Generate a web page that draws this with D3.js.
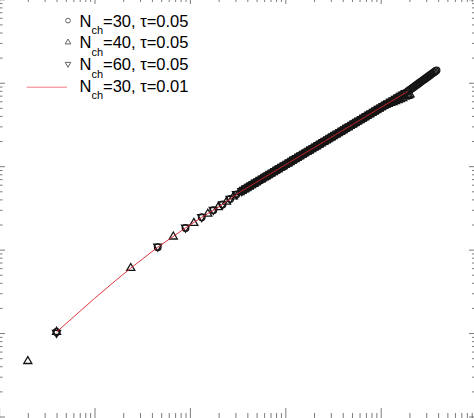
<!DOCTYPE html>
<html>
<head>
<meta charset="utf-8">
<script src="https://cdn.jsdelivr.net/npm/d3@7"></script>
<style>
  html, body { margin: 0; padding: 0; background: #fff; }
  svg { display: block; }
</style>
</head>
<body>
<div id="chart"></div>
<script>
// Axis domains (log-log, five decades each)
const xDomain = [0.1, 1e4];
const yDomain = [1, 1e5];

// Early, well separated points of each run
const n30HeadT = [0.4, 4.6, 9.0, 13.3, 17.6, 22.0, 26.4, 30.8];
const n30HeadY = [10.3, 107, 182, 244, 297, 348, 405, 460];
const n60HeadT = [0.4, 4.6, 9.0, 13.3, 17.6, 22.0, 26.4, 30.8];
const n60HeadY = [10.1, 109, 184, 246, 300, 350, 408, 463];
const n40HeadT = [0.2, 0.4, 2.4, 6.7, 11.0, 15.4, 19.8, 24.2, 28.6, 33.0];
const n40HeadY = [4.6, 10.3, 60, 143, 208, 268, 322, 375, 432, 485];
const redHeadT = [0.4, 1.0, 1.6, 2.4, 4.6, 9.0, 13.3, 17.6, 22.0, 26.4, 30.8];
const redHeadY = [10.3, 26, 41, 60, 107, 182, 244, 297, 348, 405, 460];

// Dense part where all runs overlap
const denseT = [35, 37, 39, 41.5, 44, 46.5, 49, 52, 55, 58, 62, 66, 70, 74, 78, 83, 88, 93, 99, 105,
  111, 118, 125, 132, 140, 148, 157, 167, 177, 187, 198, 210, 223, 236, 250, 265, 281, 298, 316, 335,
  355, 376, 399, 423, 448, 475, 503, 533, 565, 599, 635, 673, 713, 756, 801, 849, 900, 954, 1010, 1070,
  1135, 1200, 1275, 1350, 1430, 1520, 1610, 1705, 1810, 1915];
const denseY = [505, 524, 543, 567, 590, 613, 636, 662, 688, 714, 747, 780, 812, 843, 874, 912, 950, 987, 1030, 1072,
  1114, 1161, 1208, 1254, 1306, 1357, 1413, 1474, 1534, 1593, 1657, 1725, 1797, 1868, 1944, 2023, 2106, 2193, 2283, 2376,
  2473, 2573, 2679, 2788, 2901, 3020, 3141, 3267, 3401, 3540, 3685, 3835, 3990, 4154, 4322, 4498, 4682, 4871, 5066, 5271,
  5488, 5702, 5944, 6182, 6430, 6705, 6976, 7255, 7560, 7858];

// Where each run stops / branches off
const n60End = 1810;
const n40BranchStart = 1135;
const n40TailT = [1135, 1200, 1275, 1350, 1430, 1520, 1610, 1705, 1810, 1915, 1970, 2030];
const n40TailY = [5413, 5547, 5703, 5850, 6002, 6173, 6334, 6498, 6771, 6942, 7080, 7224];
const n30TailT = [1970, 2030, 2090, 2150, 2210, 2280, 2350, 2420, 2490, 2560, 2640, 2720, 2800, 2880, 2960,
  3050, 3140, 3230, 3330, 3430, 3530, 3630, 3740, 3850];
const n30TailY = [8050, 8248, 8450, 8654, 8860, 9090, 9320, 9552, 9780, 10012, 10270, 10532, 10790, 11046, 11310,
  11588, 11870, 12156, 12470, 12783, 13090, 13399, 13740, 14076];

// Legend labels
const legendN = ["30", "40", "60", "30"];
const legendTau = ["0.05", "0.05", "0.05", "0.01"];

const zip = (ts, ys) => ts.map((t, i) => ({t: t, y: ys[i]}));
const dense = zip(denseT, denseY);

const n30 = zip(n30HeadT, n30HeadY).concat(dense, zip(n30TailT, n30TailY));
const n40 = zip(n40HeadT, n40HeadY).concat(dense.filter(d => d.t < n40BranchStart), zip(n40TailT, n40TailY));
const n60 = zip(n60HeadT, n60HeadY).concat(dense.filter(d => d.t <= n60End));
const red = zip(redHeadT, redHeadY).concat(dense);

const width = 474, height = 418;

const svg = d3.select("#chart")
    .append("svg")
    .attr("width", width)
    .attr("height", height);

// Scales
const x = d3.scaleLog().domain(xDomain).range([-0.9, 476.1]);
const y = d3.scaleLog().domain(yDomain).range([416.5, -0.7]);

const isDecade = v => Math.abs(Math.log10(v) - Math.round(Math.log10(v))) < 1e-6;

// Inward ticks on all four sides, frame itself falls just outside the picture
function drawAxis(axis, transform, attr, sign, major, minor) {
    const g = svg.append("g")
        .attr("transform", transform)
        .call(axis.tickFormat("").tickSizeOuter(0));
    g.select(".domain").remove();
    g.selectAll(".tick line")
        .attr(attr, d => sign * (isDecade(d) ? major : minor))
        .attr("stroke", "#444")
        .attr("stroke-width", 0.7);
}

drawAxis(d3.axisBottom(x), "translate(0,420)", "y2", -1, 12, 7);
drawAxis(d3.axisTop(x), "translate(0,-4)", "y2", 1, 8, 6);
drawAxis(d3.axisLeft(y), "translate(-3,0)", "x2", 1, 8, 5.5);
drawAxis(d3.axisRight(y), "translate(477,0)", "x2", -1, 8, 5);

// Markers
const circle = d3.symbol().type(d3.symbolCircle).size(34);
const tri = d3.symbol().type(d3.symbolTriangle).size(28);

function drawSeries(data, shape, rot) {
    svg.append("g")
        .selectAll("path")
        .data(data)
        .join("path")
        .attr("d", shape)
        .attr("transform", d => `translate(${x(d.t)},${y(d.y)})` + (rot ? " rotate(180)" : ""))
        .attr("fill", "none")
        .attr("stroke", "#151515")
        .attr("stroke-width", 1.3);
}

drawSeries(n60, tri, true);
drawSeries(n40, tri, false);
drawSeries(n30, circle, false);

// tau = 0.01 run as a thin red line
const line = d3.line()
    .x(d => x(d.t))
    .y(d => y(d.y));

svg.append("path")
    .datum(red)
    .attr("fill", "none")
    .attr("stroke", "#d9232b")
    .attr("stroke-width", 0.9)
    .attr("d", line);

// Legend
const legend = svg.append("g")
    .attr("font-family", "'Liberation Sans', Arial, Helvetica, sans-serif")
    .attr("font-size", 16.5)
    .selectAll("g")
    .data(legendN)
    .enter().append("g")
    .attr("transform", (d, i) => `translate(0,${26.6 + i * 21.7})`);

legend.each(function(d, i) {
    const g = d3.select(this);
    if (i === 3) {
        g.append("line")
            .attr("x1", 26.5).attr("x2", 67)
            .attr("y1", -4.5).attr("y2", -4.5)
            .attr("stroke", "#ef7078")
            .attr("stroke-width", 0.9);
    } else {
        g.append("path")
            .attr("d", i === 0 ? d3.symbol().type(d3.symbolCircle).size(18)() : d3.symbol().type(d3.symbolTriangle).size(14)())
            .attr("transform", `translate(68,-6)` + (i === 2 ? " rotate(180)" : ""))
            .attr("fill", "none")
            .attr("stroke", "#555")
            .attr("stroke-width", 0.9);
    }
    const t = g.append("text").attr("x", 79.5).attr("y", 0).attr("fill", "#000");
    t.append("tspan").text("N");
    t.append("tspan").attr("font-size", 11).attr("dy", 7.5).text("ch");
    t.append("tspan").attr("dy", -7.5).text(`=${d}, \u03c4=${legendTau[i]}`);
});
</script>
</body>
</html>
